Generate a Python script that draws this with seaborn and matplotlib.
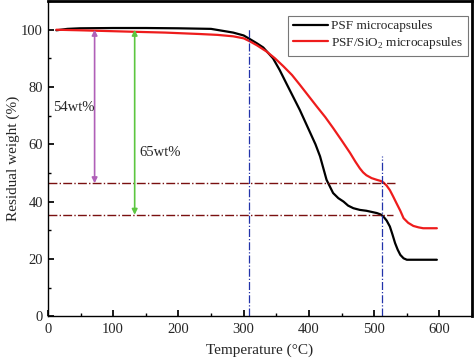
import matplotlib
matplotlib.use("Agg")
import matplotlib.pyplot as plt
import matplotlib.ticker as mtick
import seaborn as sns
import pandas as pd

# TGA curves
psf_temp = [13, 30, 49, 100, 150, 200, 250, 284, 300, 309, 320, 330, 345, 355, 366,
            376, 386, 395, 401, 410, 417, 427, 437, 445, 453, 460, 468, 478, 488, 496,
            504, 510, 514, 519, 524, 528, 532, 536, 540, 545, 550, 560, 580, 596]
psf_wt = [99.8, 100.3, 100.5, 100.6, 100.6, 100.5, 100.3, 99.0, 98.0, 96.8, 95.3, 93.8,
          90.0, 86.0, 81.0, 76.5, 72.0, 67.5, 64.5, 60.0, 55.8, 47.6, 43.0, 41.2, 40.0,
          38.6, 37.7, 37.1, 36.8, 36.4, 36.0, 35.5, 34.8, 33.4, 31.3, 28.5, 25.5, 23.2,
          21.4, 20.2, 19.7, 19.7, 19.7, 19.7]

sio2_temp = [13, 50, 130, 180, 233, 260, 284, 300, 309, 320, 335, 348, 361, 374, 386,
             399, 412, 425, 437, 450, 463, 471, 478, 483, 488, 496, 504, 510, 514, 519,
             524, 529, 534, 540, 545, 552, 560, 568, 575, 585, 596]
sio2_wt = [100.0, 99.8, 99.3, 99.0, 98.5, 98.2, 97.7, 97.0, 96.0, 94.6, 92.4, 90.0,
           87.2, 84.2, 80.8, 77.0, 73.2, 69.5, 65.7, 61.4, 57.0, 54.0, 51.6, 50.2, 49.2,
           48.2, 47.6, 47.2, 46.7, 45.6, 44.0, 41.8, 39.5, 36.8, 34.2, 32.6, 31.5, 31.0,
           30.7, 30.7, 30.7]

labels = ["PSF microcapsules", "PSF/SiO$_2$ microcapsules"]
vlines_t = [308.5, 512.5]
vlines_top = [100.6, 55.8]
hlines_wt = [46.4, 35.4]
hlines_end = [532, 529]
arrow_t = [71.6, 133]
arrow_labels = ["54wt%", "65wt%"]
arrow_label_pos = [(8.7, 73), (140, 57)]

df = pd.concat([
    pd.DataFrame({"Temperature": psf_temp, "Weight": psf_wt, "Sample": labels[0]}),
    pd.DataFrame({"Temperature": sio2_temp, "Weight": sio2_wt, "Sample": labels[1]}),
])

sns.set_theme(style="ticks")
plt.rcParams["font.family"] = ["Liberation Serif", "DejaVu Serif"]
plt.rcParams["mathtext.fontset"] = "custom"
plt.rcParams["mathtext.rm"] = "Liberation Serif"

fig = plt.figure(figsize=(4.74, 3.63), dpi=100)
ax = fig.add_axes([0.101, 0.129, 0.895, 0.868])

sns.lineplot(data=df, x="Temperature", y="Weight", hue="Sample",
             palette=["black", "#ee1c1c"], linewidth=1.6, ax=ax, sort=False)

for t, top in zip(vlines_t, vlines_top):
    ax.plot([t, t], [0, top], color="#2233aa", linestyle="-.", linewidth=0.9)
for w, end in zip(hlines_wt, hlines_end):
    ax.plot([0, end], [w, w], color="#7a1010", linestyle="-.", linewidth=1.0)

arrow_colors = ["#b060b8", "#5cc640"]
for t, bottom, c in zip(arrow_t, hlines_wt, arrow_colors):
    ax.annotate("", xy=(t, bottom), xytext=(t, 100),
                arrowprops=dict(arrowstyle="<|-|>", color=c, lw=1.2,
                                mutation_scale=8, shrinkA=0, shrinkB=0))
for txt, (x, y) in zip(arrow_labels, arrow_label_pos):
    ax.text(x, y, txt, fontsize=10.5, va="center", ha="left")

ax.set_xlim(0, 650)
ax.set_ylim(0, 110)
ax.set_xticks([0, 100, 200, 300, 400, 500, 600])
ax.set_yticks([0, 20, 40, 60, 80, 100])
ax.xaxis.set_minor_locator(mtick.MultipleLocator(50))
ax.yaxis.set_minor_locator(mtick.MultipleLocator(10))
ax.tick_params(which="both", direction="in", labelsize=10.5, color="black")
ax.tick_params(axis="x", pad=5)
ax.tick_params(which="major", length=4)
ax.tick_params(which="minor", length=2.5)
for s in ax.spines.values():
    s.set_color("black")
    s.set_linewidth(1.0)
ax.spines["right"].set_linewidth(2.0)
ax.spines["top"].set_linewidth(2.0)

ax.set_xlabel("Temperature (\u00b0C)", fontsize=11, labelpad=5)
ax.set_ylabel("Residual weight (%)", fontsize=11, labelpad=1)

leg = ax.legend(loc="upper right", fontsize=9.5, frameon=True, fancybox=False,
                edgecolor="#555555", handlelength=2.7, borderpad=0.35,
                labelspacing=0.2, handletextpad=0.2, bbox_to_anchor=(1.005, 0.975))
leg.get_frame().set_linewidth(0.8)

fig.savefig("out.png", dpi=100)
